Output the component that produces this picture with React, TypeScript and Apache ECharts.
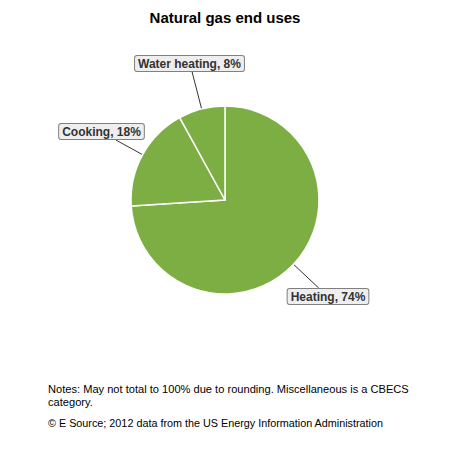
import React, { useEffect, useRef } from 'react';
import * as echarts from 'echarts';

const categories = ['Heating', 'Cooking', 'Water heating'];
const shares = [74, 18, 8];
const notes = [
  'Notes: May not total to 100% due to rounding. Miscellaneous is a CBECS',
  'category.',
];
const source = '© E Source; 2012 data from the US Energy Information Administration';

const GREEN = '#7cae43';

const App: React.FC = () => {
  const chartRef = useRef<HTMLDivElement>(null);

  useEffect(() => {
    if (!chartRef.current) return;
    const chart = echarts.init(chartRef.current, undefined, { renderer: 'svg' });

    // label box centres, per slice
    const labelSpots = [
      [328, 296.5],
      [101.5, 131.5],
      [189.5, 63.5],
    ];

    const option: echarts.EChartsOption = {
      animation: false,
      textStyle: { fontFamily: 'Liberation Sans, Arial, sans-serif' },
      title: {
        text: 'Natural gas end uses',
        left: 'center',
        top: 5,
        textStyle: { fontSize: 15, fontWeight: 'bold', color: '#000' },
      },
      graphic: [
        {
          type: 'text',
          left: 48,
          top: 383,
          style: {
            text: notes.join('\n'),
            font: '11.1px Liberation Sans, Arial, sans-serif',
            fill: '#000',
            lineHeight: 12.5,
          },
        },
        {
          type: 'text',
          left: 48,
          top: 417,
          style: {
            text: source,
            font: '10.8px Liberation Sans, Arial, sans-serif',
            fill: '#000',
          },
        },
      ],
      series: [
        {
          type: 'pie',
          center: [225, 200],
          radius: 94,
          startAngle: 90,
          clockwise: true,
          itemStyle: { color: GREEN, borderColor: '#fff', borderWidth: 1.5 },
          emphasis: { disabled: true },
          label: {
            show: true,
            position: 'outside',
            formatter: (p: any) => `${p.name}, ${p.value}%`,
            fontSize: 12,
            fontWeight: 'bold',
            color: '#333',
            backgroundColor: '#eeeeee',
            borderColor: '#808080',
            borderWidth: 1,
            borderRadius: 2,
            padding: [2, 3, 1, 3],
          },
          labelLine: {
            show: true,
            length: 30,
            length2: 0,
            lineStyle: { color: '#333', width: 1 },
          },
          labelLayout: (params: any) => {
            const spot = labelSpots[params.dataIndex];
            const w = params.labelRect.width;
            const h = params.labelRect.height;
            const pts = params.labelLinePoints;
            const out: any = {
              x: spot[0],
              y: spot[1],
              align: 'center',
              verticalAlign: 'middle',
            };
            if (pts && pts.length >= 2) {
              // run the radial line from the slice edge to the label box edge
              const p0 = pts[0];
              let dx = pts[1][0] - p0[0];
              let dy = pts[1][1] - p0[1];
              const len = Math.hypot(dx, dy) || 1;
              dx /= len;
              dy /= len;
              const x0 = spot[0] - w / 2;
              const x1 = spot[0] + w / 2;
              const y0 = spot[1] - h / 2;
              const y1 = spot[1] + h / 2;
              const tx = dx !== 0 ? Math.min((x0 - p0[0]) / dx, (x1 - p0[0]) / dx) : -Infinity;
              const ty = dy !== 0 ? Math.min((y0 - p0[1]) / dy, (y1 - p0[1]) / dy) : -Infinity;
              const t = Math.max(tx, ty, 0);
              out.labelLinePoints = [
                [p0[0], p0[1]],
                [p0[0] + dx * t, p0[1] + dy * t],
              ];
            }
            return out;
          },
          data: categories.map((name, i) => ({ name, value: shares[i] })),
        },
      ],
    };

    chart.setOption(option);
    return () => chart.dispose();
  }, []);

  return (
    <div
      ref={chartRef}
      style={{ position: 'absolute', left: 0, top: 0, width: 450, height: 450 }}
    />
  );
};

export default App;
